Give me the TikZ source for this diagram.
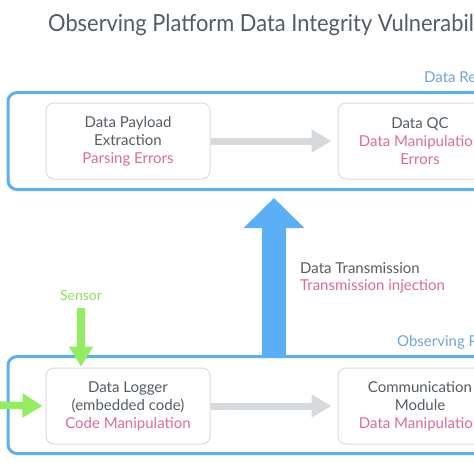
\documentclass[tikz,border=0pt]{standalone}
\usepackage{fontspec}
\setmainfont{Lato}
\newfontfamily\headfont[FakeStretch=0.93]{Lato}
\usepackage{xcolor}
\usepackage{tikz}
\usetikzlibrary{arrows.meta,positioning,calc}

\definecolor{linkblue}{HTML}{5AAFF5}
\definecolor{tagblue}{HTML}{6FA6D6}
\definecolor{errpink}{HTML}{DE6A98}
\definecolor{txtgray}{HTML}{545C63}
\definecolor{boxgray}{HTML}{D9DBDD}
\definecolor{flowgray}{HTML}{D7DADD}
\definecolor{feedgreen}{HTML}{92EE5E}

\tikzset{
  layer/.style={draw=linkblue,line width=3pt,rounded corners=9pt,minimum width=512pt,minimum height=97pt,inner sep=0pt},
  stage/.style={draw=boxgray,line width=1pt,rounded corners=8pt,minimum width=164pt,minimum height=76pt,inner sep=0pt,
    align=center,text=txtgray,font=\fontsize{15}{18}\selectfont},
  flow/.style={draw=flowgray,line width=7pt,-{Triangle[width=22pt,length=20pt]}},
  uplink/.style={draw=linkblue,line width=24pt,-{Triangle[width=59pt,length=30pt]}},
  feed/.style={draw=feedgreen,line width=7.5pt,-{Triangle[width=23pt,length=20pt]}},
  tag/.style={text=tagblue,font=\fontsize{15}{18}\selectfont,inner sep=0pt},
  err/.style={text=errpink}
}

\begin{document}
\begin{tikzpicture}[x=1pt,y=-1pt]

  \useasboundingbox (0,0) rectangle (474,474);
  \clip (0,0) rectangle (474,474);

  \def\sx{81}
  \def\ux{274}

  \node[anchor=base west,text=txtgray,font=\headfont\fontsize{23.5}{28}\selectfont,inner sep=0pt] (title) at (48,31) {Observing Platform Data Integrity Vulnerabilities};

  \node[layer] (reception) at (264,141) {};
  \node[tag,anchor=base west] (receptiontag) at (424,82) {Data Reception};
  \node[stage] (payload) at (128,141) {Data Payload\\Extraction\\{\color{errpink}Parsing Errors}};
  \node[stage] (qc) at (420,141) {Data QC\\{\color{errpink}Data Manipulation}\\{\color{errpink}Errors}};

  \node[layer] (platform) at (264,405) {};
  \node[tag,anchor=base west] (platformtag) at (397,346) {Observing Platform};
  \node[stage] (logger) at (128,406) {Data Logger\\(embedded code)\\{\color{errpink}Code Manipulation}};
  \node[stage] (comm) at (420,406) {Communication\\Module\\{\color{errpink}Data Manipulation}};

  \node[anchor=west,align=left,text=txtgray,font=\fontsize{15}{17}\selectfont,inner sep=0pt] (transmission) at (300,278) {Data Transmission\\{\color{errpink}Transmission injection}};
  \node[text=feedgreen!95!black,font=\fontsize{14}{16}\selectfont,inner sep=0pt] (sensor) at (\sx,295) {Sensor};

  \coordinate (linkfoot) at (\ux,356);
  \coordinate (feedstart) at (-6,405);

  \draw[flow,shorten >=6pt] (payload.east) -- (qc.west);
  \draw[flow,shorten >=6pt] (logger.east) -- (comm.west);
  \draw[uplink,shorten >=7pt] (linkfoot) -- (reception.south -| linkfoot);
  \draw[feed,shorten <=8pt,shorten >=1pt] (sensor.south) -- (logger.north -| sensor);
  \draw[feed,shorten >=3pt] (feedstart) -- (logger.west);

\end{tikzpicture}
\end{document}
